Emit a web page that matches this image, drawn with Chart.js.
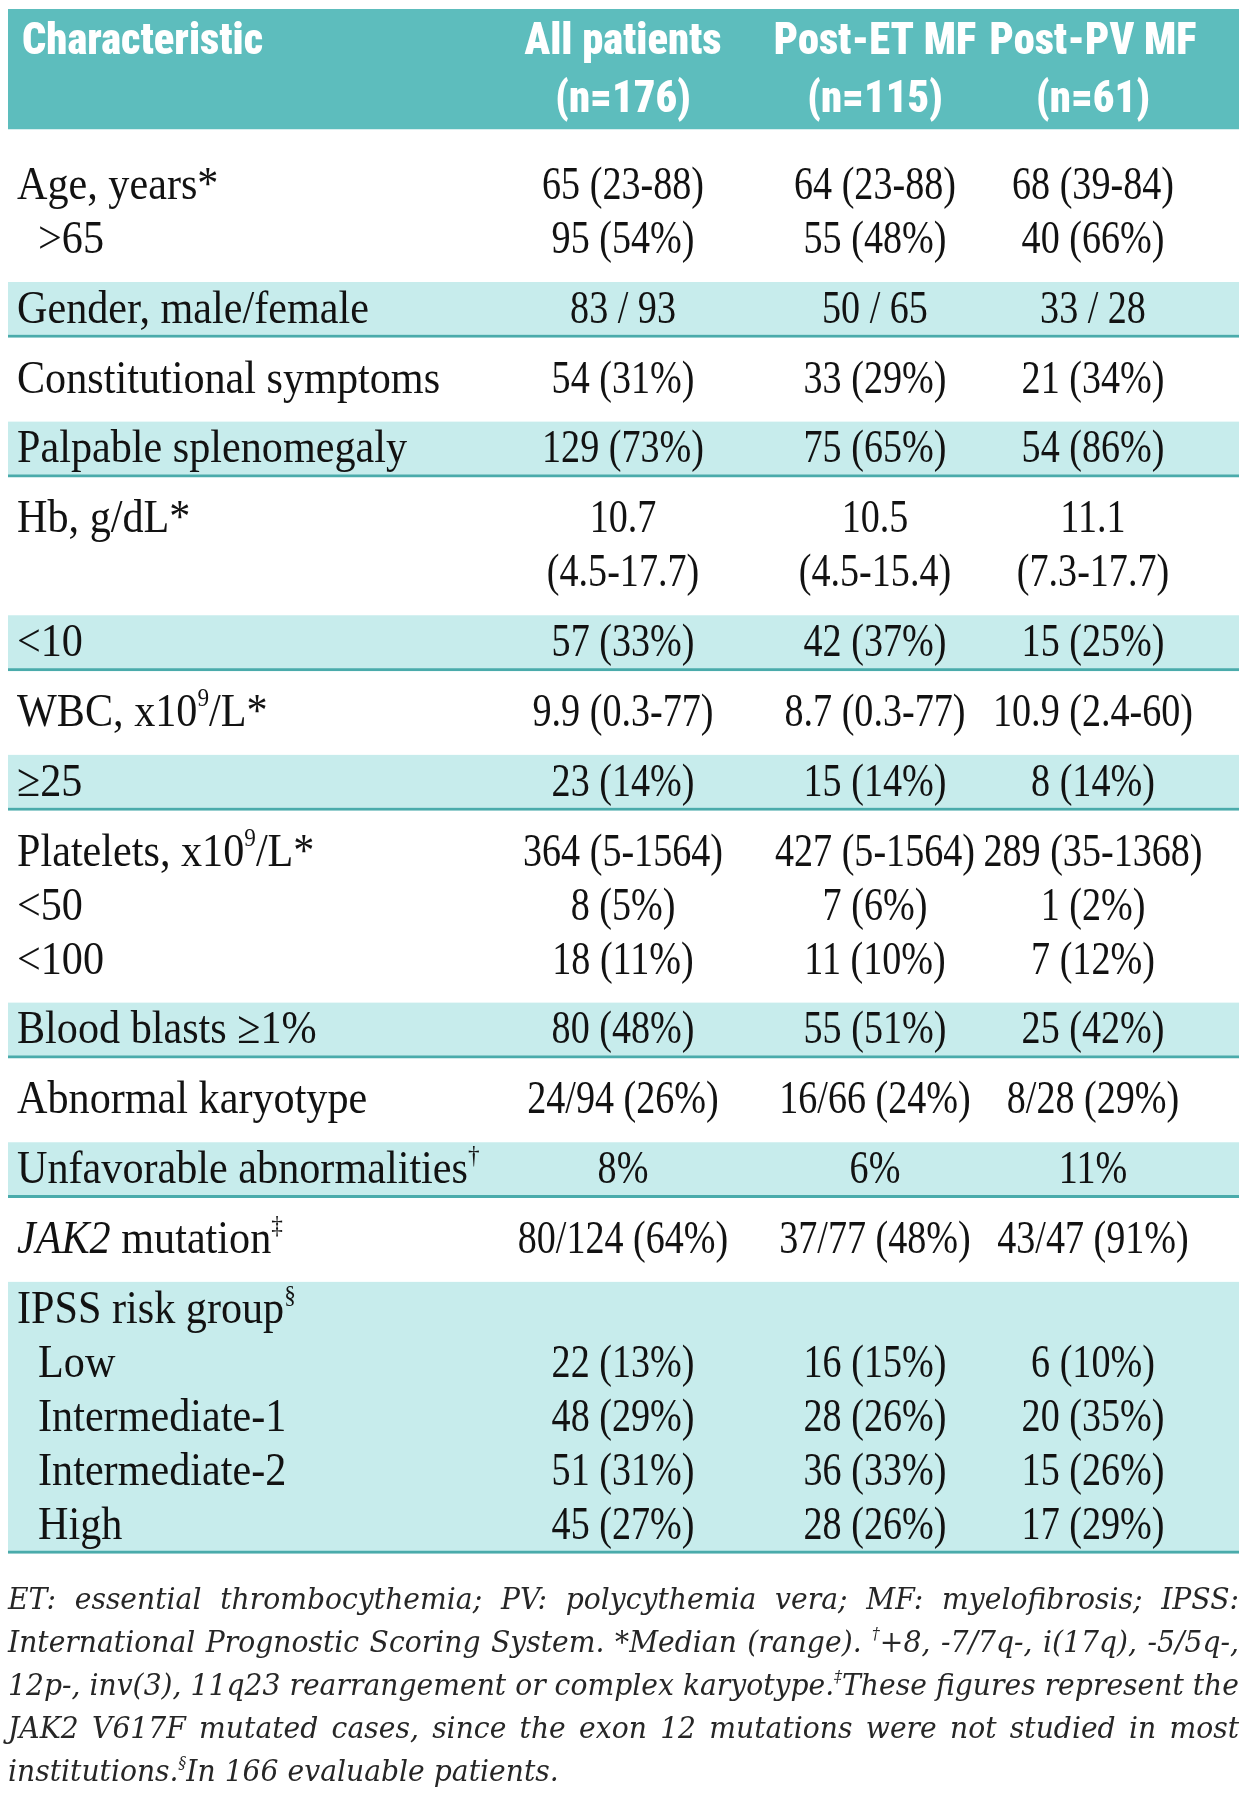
<!DOCTYPE html>
<html>
<head>
<meta charset="utf-8">
<script src="https://cdn.jsdelivr.net/npm/chart.js@4.4.0/dist/chart.umd.min.js"></script>
<style>
html,body{margin:0;padding:0;background:#ffffff;}
#wrap{width:1250px;height:1800px;position:relative;}
</style>
</head>
<body>
<div id="wrap"><canvas id="c" width="1250" height="1800"></canvas></div>
<script>
// ---------- DATA ----------
const headerTitles = ['Characteristic', 'All patients', 'Post-ET MF', 'Post-PV MF'];
const headerCounts = ['', '(n=176)', '(n=115)', '(n=61)'];

const rowLabels = [
  'Age, years*', '>65',
  'Gender, male/female',
  'Constitutional symptoms',
  'Palpable splenomegaly',
  'Hb, g/dL*', '',
  '<10',
  'WBC, x10<sup>9</sup>/L*',
  '≥25',
  'Platelets, x10<sup>9</sup>/L*', '<50', '<100',
  'Blood blasts ≥1%',
  'Abnormal karyotype',
  'Unfavorable abnormalities<sup>†</sup>',
  '<i>JAK2</i> mutation<sup>‡</sup>',
  'IPSS risk group<sup>§</sup>', 'Low', 'Intermediate-1', 'Intermediate-2', 'High'
];
const rowIndent = [0,1,0,0,0,0,0,0,0,0,0,0,0,0,0,0,0,0,1,1,1,1];
const rowBlock  = [0,0,1,2,3,4,4,5,6,7,8,8,8,9,10,11,12,13,13,13,13,13];
const shadedBlocks = [1,3,5,7,9,11,13];

const allPatients = ['65 (23-88)','95 (54%)','83 / 93','54 (31%)','129 (73%)','10.7','(4.5-17.7)','57 (33%)','9.9 (0.3-77)','23 (14%)','364 (5-1564)','8 (5%)','18 (11%)','80 (48%)','24/94 (26%)','8%','80/124 (64%)','','22 (13%)','48 (29%)','51 (31%)','45 (27%)'];
const postETMF    = ['64 (23-88)','55 (48%)','50 / 65','33 (29%)','75 (65%)','10.5','(4.5-15.4)','42 (37%)','8.7 (0.3-77)','15 (14%)','427 (5-1564)','7 (6%)','11 (10%)','55 (51%)','16/66 (24%)','6%','37/77 (48%)','','16 (15%)','28 (26%)','36 (33%)','28 (26%)'];
const postPVMF    = ['68 (39-84)','40 (66%)','33 / 28','21 (34%)','54 (86%)','11.1','(7.3-17.7)','15 (25%)','10.9 (2.4-60)','8 (14%)','289 (35-1368)','1 (2%)','7 (12%)','25 (42%)','8/28 (29%)','11%','43/47 (91%)','','6 (10%)','20 (35%)','15 (26%)','17 (29%)'];

const footnoteLines = [
  'ET: essential thrombocythemia; PV: polycythemia vera; MF: myelofibrosis; IPSS:',
  'International Prognostic Scoring System. *Median (range). <sup>†</sup>+8, -7/7q-, i(17q), -5/5q-,',
  '12p-, inv(3), 11q23 rearrangement or complex karyotype.<sup>‡</sup>These figures represent the',
  'JAK2 V617F mutated cases, since the exon 12 mutations were not studied in most',
  'institutions.<sup>§</sup>In 166 evaluable patients.'
];

// ---------- LAYOUT / STYLE ----------
const UNIT_PX = 54;
const FIRST_CENTER = 3.241;   // in row units from header top
const BLOCK_GAP = 0.293;
const HEADER_BOTTOM = 2.222;
const HEADER_LINE_CENTERS = [0.556, 1.63];
const FOOT_FIRST = 29.63, FOOT_STEP = 0.796;
const colCenters = [0.4996, 0.7043, 0.8814];
const labelLeft = 0.0073, indentLeft = 0.0244, headLeft = 0.0114;

const TEAL = '#5dbdbd', LIGHT = '#c7ecec', LINE = '#4aabab';

function lineCenter(k){ return FIRST_CENTER + k + rowBlock[k]*BLOCK_GAP; }

// ---------- rich text helpers ----------
function parseRich(str){
  const parts = str.split(/(<\/?(?:i|sup)>)/);
  let italic=false, sup=false; const segs=[];
  for (const p of parts){
    if (p==='<i>') italic=true; else if (p==='</i>') italic=false;
    else if (p==='<sup>') sup=true; else if (p==='</sup>') sup=false;
    else if (p) segs.push({t:p, italic, sup});
  }
  return segs;
}
function fontFor(style, seg){
  const size = seg.sup ? style.size*0.55 : style.size;
  const it = (style.italic || seg.italic) ? 'italic ' : '';
  return it + (style.weight||'normal') + ' ' + size + 'px ' + style.family;
}
function measureRich(ctx, segs, style){
  let w=0;
  for (const s of segs){ ctx.font=fontFor(style,s); w+=ctx.measureText(s.t).width; }
  return w;
}
function drawRich(ctx, segs, x, y, style, sx, align){
  const w = measureRich(ctx,segs,style)*sx;
  const x0 = align==='center' ? x-w/2 : (align==='right' ? x-w : x);
  ctx.save();
  ctx.translate(x0,y); ctx.scale(sx,1);
  ctx.fillStyle=style.color; ctx.textBaseline='alphabetic'; ctx.textAlign='left';
  let cx=0;
  for (const s of segs){
    ctx.font=fontFor(style,s);
    ctx.fillText(s.t, cx, s.sup ? -style.size*0.42 : 0);
    cx+=ctx.measureText(s.t).width;
  }
  ctx.restore();
}

const bodyStyle = {size:47, family:'"Liberation Serif","Times New Roman",serif', color:'#121212'};
const headStyle = {size:45, family:'"Liberation Sans Narrow","Roboto Condensed",Roboto,"Liberation Sans",sans-serif', weight:'900', color:'#ffffff'};
const footStyle = {size:30, family:'"DejaVu Serif",serif', italic:true, color:'#262626'};

const tablePlugin = {
  id:'tableText',
  afterDatasetsDraw(chart){
    const ctx = chart.ctx;
    const ys = chart.scales.y, xs = chart.scales.xcol;
    const X = v => xs.getPixelForValue(v);
    const Y = v => ys.getPixelForValue(v);

    // horizontal condensing, calibrated to reference text widths
    const labelSX = 352 / measureRich(ctx, parseRich('Gender, male/female'), bodyStyle);
    const valueSX = 200 / measureRich(ctx, parseRich('427 (5-1564)'), bodyStyle);
    const headSX  = 197 / measureRich(ctx, parseRich('All patients'), headStyle);

    // header
    const hCap = 15;
    drawRich(ctx, parseRich(headerTitles[0]), X(headLeft), Y(HEADER_LINE_CENTERS[0])+hCap, headStyle, headSX, 'left');
    for (let c=1;c<headerTitles.length;c++){
      drawRich(ctx, parseRich(headerTitles[c]), X(colCenters[c-1]), Y(HEADER_LINE_CENTERS[0])+hCap, headStyle, headSX, 'center');
      drawRich(ctx, parseRich(headerCounts[c]), X(colCenters[c-1]), Y(HEADER_LINE_CENTERS[1])+hCap, headStyle, headSX, 'center');
    }

    // body
    const bCap = 15;
    const series = [allPatients, postETMF, postPVMF];
    for (let k=0;k<rowLabels.length;k++){
      const yb = Y(lineCenter(k)) + bCap;
      if (rowLabels[k]) drawRich(ctx, parseRich(rowLabels[k]), X(rowIndent[k]?indentLeft:labelLeft), yb, bodyStyle, labelSX, 'left');
      series.forEach((arr,c)=>{
        if (arr[k]) drawRich(ctx, parseRich(arr[k]), X(colCenters[c]), yb, bodyStyle, valueSX, 'center');
      });
    }

    // footnote (justified)
    const left = X(0), right = X(1), W = right-left;
    const lines = footnoteLines.map(l => l.split(' ').map(w => parseRich(w)));
    ctx.font = fontFor(footStyle,{});
    const spaceW = ctx.measureText(' ').width;
    const nat = lines.map(ws => ws.reduce((a,w)=>a+measureRich(ctx,w,footStyle),0) + spaceW*(ws.length-1));
    let fsx = 1;
    for (let i=0;i<lines.length-1;i++) fsx = Math.min(fsx, W/nat[i]);
    lines.forEach((ws,i)=>{
      const yb = Y(FOOT_FIRST + i*FOOT_STEP);
      const last = i===lines.length-1;
      const wordsW = ws.reduce((a,w)=>a+measureRich(ctx,w,footStyle),0)*fsx;
      const gap = last ? spaceW*fsx : (W - wordsW)/(ws.length-1);
      let x = left;
      ws.forEach(w=>{
        drawRich(ctx, w, x, yb, footStyle, fsx, 'left');
        x += measureRich(ctx,w,footStyle)*fsx + gap;
      });
    });
  }
};

// background bands as floating bars
const datasets = [{
  label:'header', data:[[0, HEADER_BOTTOM]], backgroundColor:TEAL, borderWidth:0,
  barPercentage:1, categoryPercentage:1
}];
shadedBlocks.forEach(b=>{
  const ks = rowBlock.map((v,i)=>v===b?i:-1).filter(i=>i>=0);
  datasets.push({
    label:'block'+b,
    data:[[lineCenter(ks[0])-0.48, lineCenter(ks[ks.length-1])+0.55]],
    backgroundColor:LIGHT, borderColor:LINE,
    borderWidth:{top:0,right:0,bottom:3,left:0}, borderSkipped:false,
    barPercentage:1, categoryPercentage:1
  });
});

new Chart(document.getElementById('c'), {
  type:'bar',
  data:{ labels:['table'], datasets },
  options:{
    responsive:false, animation:false, events:[],
    layout:{ padding:{left:8, right:11, top:9, bottom:0} },
    plugins:{ legend:{display:false}, tooltip:{enabled:false}, title:{display:false} },
    datasets:{ bar:{ grouped:false } },
    scales:{
      x:{ type:'category', display:false, offset:true, grid:{display:false} },
      xcol:{ type:'linear', axis:'x', min:0, max:1, offset:false, grace:0, display:false, grid:{offset:false} },
      y:{ type:'linear', min:0, max:1791/UNIT_PX, reverse:true, display:false }
    }
  },
  plugins:[tablePlugin]
});
</script>
</body>
</html>
